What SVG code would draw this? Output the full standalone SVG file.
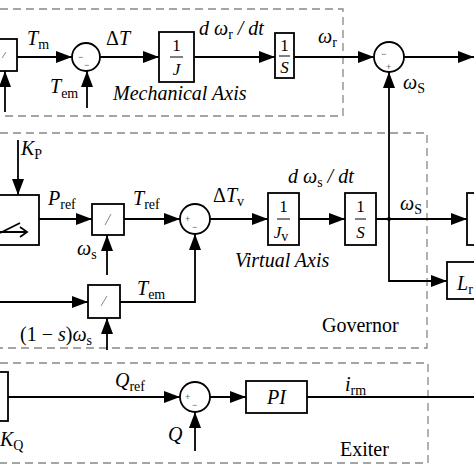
<svg xmlns="http://www.w3.org/2000/svg" width="474" height="474" viewBox="0 0 474 474">
<defs>
<marker id="ah" markerWidth="16" markerHeight="12" refX="16" refY="6" orient="auto" markerUnits="userSpaceOnUse"><path d="M0,0 L16,6 L0,12 z" fill="#000"/></marker>
<style>
.ln{fill:none;stroke:#000;stroke-width:1.8}
.bx{fill:#fff;stroke:#000;stroke-width:1.8}
.dash{fill:none;stroke:#888;stroke-width:1.3;stroke-dasharray:8,5}
.t{font-family:"Liberation Serif",serif;font-size:20px;fill:#000}
.i{font-style:italic}
.sub{font-size:14px;font-style:normal}
.sg{font-family:"Liberation Sans",sans-serif;font-size:9px;fill:#666}
.frac{font-family:"Liberation Serif",serif;font-size:17px;fill:#000;text-anchor:middle}
</style>
</defs>
<rect width="474" height="474" fill="#fff"/>

<g id="frames">
<path class="dash" d="M0,9 H343 V116 H0"/>
<path class="dash" d="M0,133 H427 V348 H0"/>
<path class="dash" d="M0,363 H428 V463 H0"/>
</g>

<g id="connectors">
<line class="ln" x1="5" y1="112" x2="5" y2="71" marker-end="url(#ah)"/>
<line class="ln" x1="17" y1="57" x2="72" y2="57" marker-end="url(#ah)"/>
<line class="ln" x1="87" y1="108" x2="87" y2="71" marker-end="url(#ah)"/>
<line class="ln" x1="100" y1="57" x2="159" y2="57" marker-end="url(#ah)"/>
<line class="ln" x1="194" y1="57" x2="275" y2="57" marker-end="url(#ah)"/>
<line class="ln" x1="294" y1="57" x2="374" y2="57" marker-end="url(#ah)"/>
<line class="ln" x1="404" y1="57" x2="474" y2="57" marker-end="url(#ah)"/>
<path class="ln" d="M447,281 H389 V72" marker-end="url(#ah)"/>
<line class="ln" x1="389" y1="281" x2="447" y2="281" marker-end="url(#ah)"/>
<circle cx="389" cy="219" r="2" fill="#000"/>

<line class="ln" x1="18" y1="140" x2="18" y2="195" marker-end="url(#ah)"/>
<line class="ln" x1="39" y1="219" x2="92" y2="219" marker-end="url(#ah)"/>
<line class="ln" x1="124" y1="219" x2="180" y2="219" marker-end="url(#ah)"/>
<line class="ln" x1="210" y1="219" x2="268" y2="219" marker-end="url(#ah)"/>
<line class="ln" x1="299" y1="219" x2="345" y2="219" marker-end="url(#ah)"/>
<line class="ln" x1="376" y1="219" x2="467" y2="219" marker-end="url(#ah)"/>
<line class="ln" x1="107" y1="275" x2="107" y2="235" marker-end="url(#ah)"/>
<line class="ln" x1="0" y1="302" x2="88" y2="302" marker-end="url(#ah)"/>
<line class="ln" x1="107" y1="350" x2="107" y2="318" marker-end="url(#ah)"/>
<path class="ln" d="M120,302 H195 V234" marker-end="url(#ah)"/>

<line class="ln" x1="8" y1="397" x2="180" y2="397" marker-end="url(#ah)"/>
<line class="ln" x1="195" y1="451" x2="195" y2="412" marker-end="url(#ah)"/>
<line class="ln" x1="210" y1="397" x2="246" y2="397" marker-end="url(#ah)"/>
<line class="ln" x1="307" y1="397" x2="474" y2="397"/>
</g>

<g id="mech-div">
<rect class="bx" x="-5" y="39" width="22" height="32"/>
<line x1="2" y1="58" x2="6" y2="52" stroke="#888" stroke-width="1"/>
</g>
<g id="sum-mech">
<circle class="bx" cx="86" cy="57" r="14"/>
<text class="sg" x="78" y="60">−</text>
<text class="sg" x="84" y="68">−</text>
</g>
<g id="box-1J">
<rect class="bx" x="159" y="32" width="35" height="50"/>
<text class="frac" x="176.5" y="51">1</text>
<line x1="170" y1="57" x2="183" y2="57" stroke="#000" stroke-width="1"/>
<text class="frac i" x="176.5" y="75">J</text>
</g>
<g id="box-1S-mech">
<rect class="bx" x="275" y="33" width="19" height="45"/>
<text class="frac" x="284.5" y="51">1</text>
<line x1="279" y1="56" x2="290" y2="56" stroke="#000" stroke-width="1"/>
<text class="frac i" x="284.5" y="73">S</text>
</g>
<g id="sum-speed">
<circle class="bx" cx="389" cy="57" r="15"/>
<text class="sg" x="381" y="57">−</text>
<text class="sg" x="386" y="70">+</text>
</g>
<g id="box-Lr">
<rect class="bx" x="447" y="262" width="40" height="37"/>
<text class="t i" x="457" y="290">L<tspan class="sub" dy="4">r</tspan></text>
</g>

<g id="limiter">
<rect class="bx" x="-5" y="195" width="44" height="50"/>
<path class="ln" d="M0,233 L20,223" stroke-width="1.2"/>
<path class="ln" d="M0,232 H26 M20,227 L27,232 L20,237" stroke-width="1.2"/>
</g>
<g id="div-upper">
<rect class="bx" x="92" y="204" width="32" height="31"/>
<line x1="105" y1="225" x2="111" y2="214" stroke="#888" stroke-width="1"/>
</g>
<g id="sum-gov">
<circle class="bx" cx="195" cy="219" r="15"/>
<text class="sg" x="185" y="222">+</text>
<text class="sg" x="192" y="230">−</text>
</g>
<g id="box-1Jv">
<rect class="bx" x="268" y="193" width="31" height="52"/>
<text class="frac" x="283.5" y="212">1</text>
<line x1="277" y1="219" x2="290" y2="219" stroke="#000" stroke-width="1"/>
<text class="frac i" x="281" y="238">J<tspan class="sub" font-size="10" dy="3">v</tspan></text>
</g>
<g id="box-1S-gov">
<rect class="bx" x="345" y="193" width="31" height="52"/>
<text class="frac" x="360.5" y="212">1</text>
<line x1="355" y1="219" x2="366" y2="219" stroke="#000" stroke-width="1"/>
<text class="frac i" x="360.5" y="238">S</text>
</g>
<g id="box-right">
<rect class="bx" x="467" y="193" width="20" height="52"/>
</g>
<g id="div-lower">
<rect class="bx" x="88" y="285" width="32" height="33"/>
<line x1="101" y1="306" x2="107" y2="296" stroke="#888" stroke-width="1"/>
</g>

<g id="kq">
<rect class="bx" x="-5" y="372" width="13" height="49"/>
</g>
<g id="sum-exc">
<circle class="bx" cx="195" cy="397" r="15"/>
<text class="sg" x="185" y="400">+</text>
<text class="sg" x="192" y="408">−</text>
</g>
<g id="pi">
<rect class="bx" x="246" y="381" width="61" height="32"/>
<text class="t i" x="276.5" y="404" text-anchor="middle">PI</text>
</g>

<g id="labels">
<text class="t i" x="27" y="45">T<tspan class="sub" dy="4">m</tspan></text>
<text class="t i" x="50" y="93">T<tspan class="sub" dy="5">em</tspan></text>
<text class="t" x="106" y="45">Δ<tspan class="i">T</tspan></text>
<text class="t i" x="199" y="35">d ω<tspan class="sub" dy="4">r</tspan><tspan dy="-4"> / dt</tspan></text>
<text class="t i" x="113" y="100">Mechanical Axis</text>
<text class="t i" x="318" y="43">ω<tspan class="sub" dy="4">r</tspan></text>
<text class="t i" x="403" y="89">ω<tspan class="sub" dy="4">S</tspan></text>

<text class="t i" x="21" y="155">K<tspan class="sub" dy="4">P</tspan></text>
<text class="t i" x="48" y="205">P<tspan class="sub" dy="4">ref</tspan></text>
<text class="t i" x="133" y="205">T<tspan class="sub" dy="4">ref</tspan></text>
<text class="t" x="213" y="202">Δ<tspan class="i">T</tspan><tspan class="sub" dy="4">v</tspan></text>
<text class="t i" x="288" y="183">d ω<tspan class="sub" dy="4">s</tspan><tspan dy="-4"> / dt</tspan></text>
<text class="t i" x="400" y="210">ω<tspan class="sub" dy="4">S</tspan></text>
<text class="t i" x="77" y="255">ω<tspan class="sub" dy="4">s</tspan></text>
<text class="t i" x="137" y="295">T<tspan class="sub" dy="4">em</tspan></text>
<text class="t" x="20" y="341">(1 − <tspan class="i">s</tspan>)<tspan class="i">ω</tspan><tspan class="sub" dy="4">s</tspan></text>
<text class="t i" x="235" y="267">Virtual Axis</text>
<text class="t" x="322" y="332">Governor</text>

<text class="t i" x="0" y="446">K<tspan class="sub" dy="4">Q</tspan></text>
<text class="t i" x="115" y="387">Q<tspan class="sub" dy="4">ref</tspan></text>
<text class="t i" x="168" y="441">Q</text>
<text class="t i" x="345" y="391">i<tspan class="sub" dy="4">rm</tspan></text>
<text class="t" x="340" y="456">Exiter</text>
</g>
</svg>
